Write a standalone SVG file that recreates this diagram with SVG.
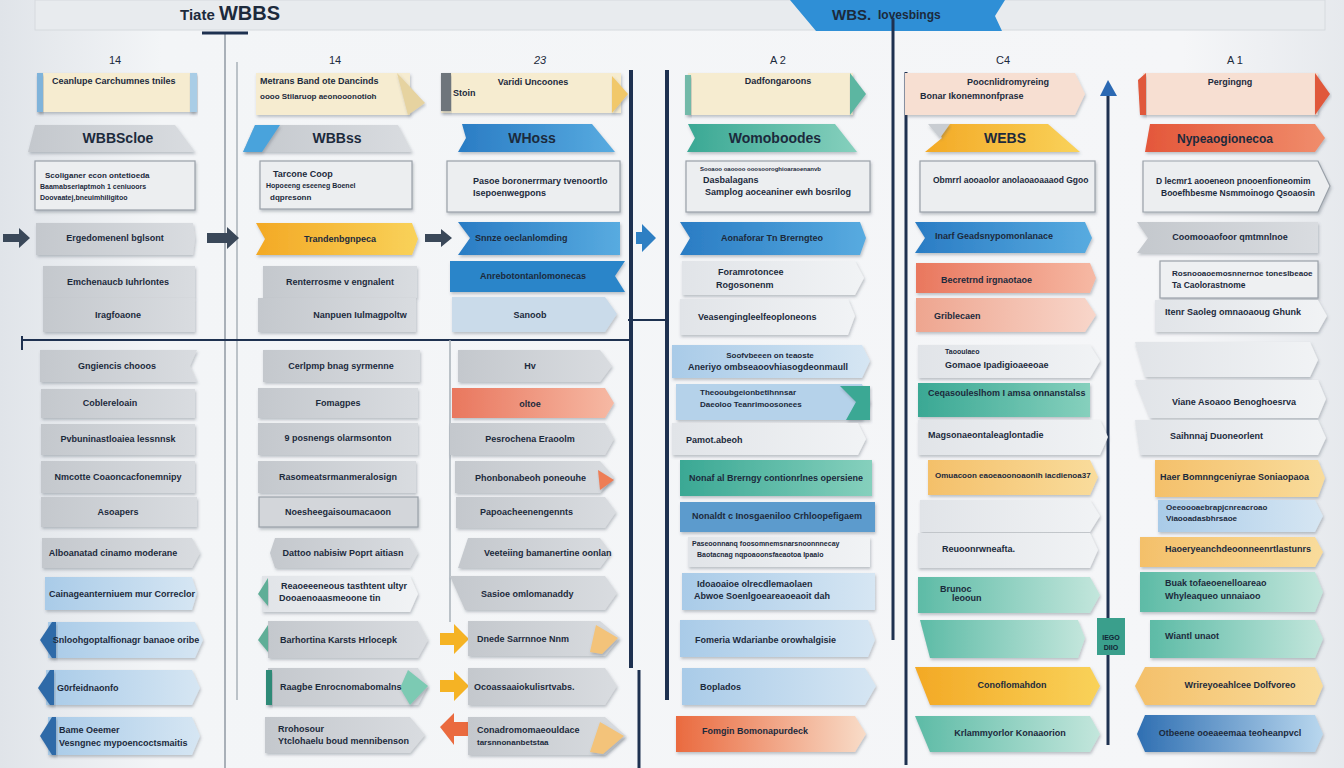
<svg xmlns="http://www.w3.org/2000/svg" width="1344" height="768" viewBox="0 0 1344 768">
<defs>
<linearGradient id="bg" x1="0" y1="0" x2="1" y2="0"><stop offset="0" stop-color="#e0e4e9"/><stop offset="0.12" stop-color="#f3f5f7"/><stop offset="0.88" stop-color="#f5f6f8"/><stop offset="1" stop-color="#e6e9ed"/></linearGradient>
<linearGradient id="gBlue" x1="0" x2="1"><stop offset="0" stop-color="#2a7cc4"/><stop offset="1" stop-color="#58abe0"/></linearGradient>
<linearGradient id="gLBlue" x1="0" x2="1"><stop offset="0" stop-color="#a9cbe8"/><stop offset="1" stop-color="#d6e6f3"/></linearGradient>
<linearGradient id="gTeal" x1="0" x2="1"><stop offset="0" stop-color="#3aa894"/><stop offset="1" stop-color="#86d0bd"/></linearGradient>
<linearGradient id="gTealL" x1="0" x2="1"><stop offset="0" stop-color="#5dbba6"/><stop offset="1" stop-color="#c3e6dc"/></linearGradient>
<linearGradient id="gYel" x1="0" x2="1"><stop offset="0" stop-color="#f3a925"/><stop offset="1" stop-color="#f9d25a"/></linearGradient>
<linearGradient id="gYelP" x1="0" x2="1"><stop offset="0" stop-color="#f4c06a"/><stop offset="1" stop-color="#f9dc9c"/></linearGradient>
<linearGradient id="gSal" x1="0" x2="1"><stop offset="0" stop-color="#e9775e"/><stop offset="1" stop-color="#f6b9a4"/></linearGradient>
<linearGradient id="gSalL" x1="0" x2="1"><stop offset="0" stop-color="#eea58f"/><stop offset="1" stop-color="#f8d6ca"/></linearGradient>
<linearGradient id="gRed" x1="0" x2="1"><stop offset="0" stop-color="#e4573a"/><stop offset="1" stop-color="#f08d6c"/></linearGradient>
<linearGradient id="gOr" x1="0" x2="1"><stop offset="0" stop-color="#ea6a3f"/><stop offset="1" stop-color="#f8dcc8"/></linearGradient>
<linearGradient id="gGray" x1="0" x2="1"><stop offset="0" stop-color="#c4c8cd"/><stop offset="1" stop-color="#d9dce0"/></linearGradient>
<linearGradient id="gLight" x1="0" x2="1"><stop offset="0" stop-color="#e1e4e8"/><stop offset="1" stop-color="#f1f3f5"/></linearGradient>
<linearGradient id="gBlueL2" x1="0" x2="1"><stop offset="0" stop-color="#2f6fb2"/><stop offset="1" stop-color="#b9d7ee"/></linearGradient>
<filter id="sh" x="-5%" y="-15%" width="112%" height="140%"><feDropShadow dx="1" dy="2" stdDeviation="1.4" flood-color="#4d5866" flood-opacity="0.35"/></filter>
</defs>
<style>
text{font-family:"Liberation Sans",Arial,sans-serif;font-weight:bold;fill:#1c2a3c;font-size:9px}
.c{text-anchor:middle}
.s{font-size:7px}
.h{font-size:14px}
.lab{font-size:11px;font-weight:normal}
.n path,.n rect{filter:url(#sh)}
.cream{fill:#f6ecd0}
.gray{fill:url(#gGray)}
.box{fill:#eceef0;stroke:#9aa1a9;stroke-width:1.2}
.light{fill:url(#gLight)}
.blue{fill:url(#gBlue)}
.lblue{fill:url(#gLBlue)}
.teal{fill:url(#gTeal)}
.tealL{fill:url(#gTealL)}
.yel{fill:url(#gYel)}
.yelP{fill:url(#gYelP)}
.sal{fill:url(#gSal)}
.salL{fill:url(#gSalL)}
.red{fill:url(#gRed)}
.or{fill:url(#gOr)}
.peach{fill:#f7dfd2}
.navy{stroke:#1e3150;fill:none}
.lg{stroke:#a9b0b8;fill:none}
.ar{fill:#3a4859}
</style>
<rect width="1344" height="768" fill="url(#bg)"/>

<g id="header">
<rect x="35" y="0" width="1290" height="30" fill="#e8ebee" stroke="#d6dade" stroke-width="1"/>
<text x="180" y="20"><tspan style="font-size:15px">Tiate </tspan><tspan style="font-size:20px">WBBS</tspan></text>
<path d="M790 0H1005L995 16L1002 31H816Z" fill="#2f8fd6"/>
<text x="832" y="20" style="font-size:15px">WBS.</text>
<text x="878" y="19" style="font-size:12px">Iovesbings</text>
</g>

<g id="labels">
<text class="lab c" x="115" y="64">14</text>
<text class="lab c" x="335" y="64">14</text>
<text class="lab c" x="540" y="64" font-style="italic">23</text>
<text class="lab c" x="778" y="64">A 2</text>
<text class="lab c" x="1003" y="64">C4</text>
<text class="lab c" x="1235" y="64">A 1</text>
</g>

<g id="connectors">
<path class="lg" stroke-width="2" d="M225 34V768"/>
<path class="lg" stroke-width="1.5" d="M237 62V700"/>
<path class="navy" stroke-width="3" d="M202 33L248 33"/>
<path class="navy" stroke-width="2" d="M22 340H632"/>
<path class="navy" stroke-width="2" d="M22 336V350"/>
<path class="lg" stroke-width="1.5" d="M450 340V622"/>
<path class="navy" stroke-width="4" d="M631 70V668"/>
<path class="navy" stroke-width="3" d="M639 670V768"/>
<path class="navy" stroke-width="2" d="M628 320H668"/>
<path class="navy" stroke-width="4" d="M667 70V700"/>
<path class="navy" stroke-width="3" d="M893 18V640"/>
<path class="navy" stroke-width="3" d="M906 72V765"/>
<path class="navy" stroke-width="3" d="M1108 95V745"/>
<path d="M1100 96L1108 80L1117 96Z" fill="#2b69b3"/>
<path class="ar" d="M3 234h16v-6l11 10l-11 10v-6h-16z"/>
<path class="ar" d="M207 233h20v-6l12 11l-12 11v-6h-20z"/>
<path class="ar" d="M425 234h16v-5l11 9l-11 9v-5h-16z"/>
<path d="M636 232h6v-8l14 14l-14 14v-8h-6z" fill="#2e7fc3"/>
<path d="M440 633h14v-9l15 15l-15 15v-9h-14z" fill="#f5b324"/>
<path d="M440 680h14v-9l15 15l-15 15v-9h-14z" fill="#f5b324"/>
<path d="M440 727l14 -14v9h14v14h-14v9z" fill="#ea6a3f"/>
<path d="M1097 618h28v37h-28z" fill="#3a9f8c"/>
<text class="c s" x="1111" y="640" style="fill:#123">IEGO</text>
<text class="c s" x="1111" y="650" style="fill:#123">DIIO</text>
</g>

<!-- Column 1 -->
<g id="c1n1" class="n"><rect class="cream" x="37" y="73" width="158" height="39"/><rect x="37" y="73" width="6" height="39" fill="#7fb3da"/><rect x="190" y="73" width="7" height="39" fill="#a9cde6"/><text x="52" y="84">Ceanlupe Carchumnes tniles</text></g>
<g id="c1n2" class="n"><path class="gray" d="M35 125H175L195 152H28Z"/><text class="c h" x="118" y="143">WBBScloe</text></g>
<g id="c1n3" class="n"><rect class="box" x="35" y="161" width="160" height="49"/><text class="s" x="45" y="178" style="font-size:8px">Scoliganer econ ontetioeda</text><text class="s" x="40" y="189">Baamabseriaptmoh 1 ceniuoors</text><text class="s" x="40" y="200">Doovaatej,bneuimhiligitoo</text></g>
<g id="c1n4" class="n"><path class="gray" d="M36 223H193L195 239L193 255H36Z"/><text class="c" x="115" y="241">Ergedomenenl bglsont</text></g>
<g id="c1n5" class="n"><rect class="gray" x="43" y="266" width="152" height="32"/><text class="c" x="118" y="285">Emchenaucb Iuhrlontes</text></g>
<g id="c1n6" class="n"><rect class="gray" x="43" y="298" width="152" height="34"/><text class="c" x="118" y="318">Iragfoaone</text></g>
<g id="c1n7" class="n"><path class="gray" d="M40 350H197L190 366L197 382H40Z"/><text class="c" x="117" y="369">Gngiencis chooos</text></g>
<g id="c1n8" class="n"><rect class="gray" x="41" y="389" width="154" height="29"/><text class="c" x="110" y="406">Coblereloain</text></g>
<g id="c1n9" class="n"><rect class="gray" x="41" y="424" width="154" height="31"/><text class="c" x="118" y="442">Pvbuninastloaiea lessnnsk</text></g>
<g id="c1n10" class="n"><rect class="gray" x="41" y="461" width="154" height="32"/><text class="c" x="118" y="480">Nmcotte  Coaoncacfonemnipy</text></g>
<g id="c1n11" class="n"><rect class="gray" x="41" y="497" width="156" height="30"/><text class="c" x="118" y="515">Asoapers</text></g>
<g id="c1n12" class="n"><path class="gray" d="M42 538H192L200 553L192 568H42Z"/><text class="c" x="113" y="556">Alboanatad cinamo moderane</text></g>
<g id="c1n13" class="n"><path class="lblue" d="M45 577H192L197 593L192 610H45Z"/><text class="c" x="122" y="597">Cainageanterniuem mur Correclor</text></g>
<g id="c1n14" class="n"><path class="lblue" d="M48 622H195L203 640L195 658H48Z"/><path d="M52 622L40 640L52 658H56V622Z" fill="#2f6aa8"/><text class="c" x="126" y="643">Snloohgoptalfionagr banaoe oribe</text></g>
<g id="c1n15" class="n"><path class="lblue" d="M46 670H192L200 688L192 705H46Z"/><path d="M50 670L38 688L50 705H54V670Z" fill="#2f6aa8"/><text x="57" y="691">G0rfeidnaonfo</text></g>
<g id="c1n16" class="n"><path class="lblue" d="M48 717H192L200 736L192 755H48Z"/><path d="M52 717L40 736L52 755H56V717Z" fill="#2f6aa8"/><text x="59" y="733">Bame Oeemer</text><text x="59" y="746">Vesngnec mypoencoctsmaitis</text></g>

<!-- Column 2 -->
<g id="c2n1" class="n"><rect class="cream" x="256" y="73" width="154" height="42"/><path d="M397 73L425 103L408 115Z" fill="#e6d3a0"/><text x="260" y="84">Metrans Band ote Dancinds</text><text class="s" x="260" y="99" style="font-size:8px">oooo Stilaruop aeonooonotioh</text></g>
<g id="c2n2" class="n"><path class="gray" d="M255 125H398L412 152H243Z"/><path d="M255 125H280L262 152H243Z" fill="#4aa3dc"/><text class="c h" x="337" y="143">WBBss</text></g>
<g id="c2n3" class="n"><rect class="box" x="260" y="161" width="152" height="48"/><text x="273" y="177">Tarcone Coop</text><text class="s" x="266" y="188">Hopoeeng eseeneg Boenel</text><text class="s" x="270" y="200" style="font-size:8px">dqpresonn</text></g>
<g id="c2n4" class="n"><path class="yel" d="M256 223H412L418 239L412 255H256L265 239Z"/><text class="c" x="340" y="242">Trandenbgnpeca</text></g>
<g id="c2n5" class="n"><rect class="gray" x="263" y="266" width="154" height="32"/><text class="c" x="340" y="285">Renterrosme v  engnalent</text></g>
<g id="c2n6" class="n"><rect class="gray" x="258" y="298" width="158" height="34"/><text class="c" x="360" y="318">Nanpuen Iulmagpoltw</text></g>
<g id="c2n7" class="n"><rect class="gray" x="263" y="350" width="157" height="32"/><text class="c" x="341" y="369">Cerlpmp bnag syrmenne</text></g>
<g id="c2n8" class="n"><rect class="gray" x="258" y="388" width="160" height="30"/><text class="c" x="338" y="406">Fomagpes</text></g>
<g id="c2n9" class="n"><rect class="gray" x="258" y="423" width="160" height="32"/><text class="c" x="338" y="441">9 posnengs olarmsonton</text></g>
<g id="c2n10" class="n"><rect class="gray" x="258" y="461" width="158" height="32"/><text class="c" x="338" y="480">Rasomeatsrmanmeralosign</text></g>
<g id="c2n11" class="n"><rect class="box" x="259" y="497" width="159" height="30" style="fill:#d3d6da"/><text class="c" x="338" y="515">Noesheegaisoumacaoon</text></g>
<g id="c2n12" class="n"><path class="gray" d="M275 538H410L418 553L410 568H275L270 553Z"/><text class="c" x="343" y="556">Dattoo nabisiw Poprt aitiasn</text></g>
<g id="c2n13" class="n"><path class="light" d="M262 576H410L418 594L410 612H262Z"/><path d="M268 578L258 594L268 606Z" fill="#5fae97"/><text x="281" y="589">Reaoeeeneous tasthtent ultyr</text><text x="279" y="601">Dooaenoaasmeoone tin</text></g>
<g id="c2n14" class="n"><path class="gray" d="M268 621H418L428 640L418 658H268Z"/><path d="M268 625L258 640L268 652Z" fill="#5fae97"/><text x="280" y="643">Barhortina Karsts Hrlocepk</text></g>
<g id="c2n15" class="n"><path class="gray" d="M268 668H418L428 686L418 705H268Z"/><path d="M266 670V705H272V670Z" fill="#2e8a77"/><path d="M408 670L428 686L410 705L400 688Z" fill="#7ccab3"/><text x="280" y="690">Raagbe Enrocnomabomalns</text></g>
<g id="c2n16" class="n"><path class="gray" d="M265 717H410L425 735L410 753H265Z"/><text x="278" y="732">Rrohosour</text><text x="278" y="744">Ytclohaelu boud mennibenson</text></g>

<!-- Column 3 -->
<g id="c3n1" class="n"><rect class="cream" x="441" y="73" width="180" height="40"/><rect x="441" y="73" width="10" height="38" fill="#6e747b"/><path d="M612 76L628 94L612 113Z" fill="#f1c86a"/><text class="c" x="533" y="85">Varidi Uncoones</text><text x="453" y="96">Stoin</text></g>
<g id="c3n2" class="n"><path class="blue" d="M462 124H592L615 152H458L466 138Z"/><text class="c h" x="532" y="143">WHoss</text></g>
<g id="c3n3" class="n"><rect class="box" x="447" y="161" width="173" height="51"/><path d="M465 172H565" stroke="#4fa7d9" stroke-width="1.5"/><text x="473" y="184">Pasoe boronerrmary tvenoortlo</text><text x="473" y="196">Isepoenwegpons</text></g>
<g id="c3n4" class="n"><path class="blue" d="M458 222H620V255H458L470 238Z"/><text x="475" y="241">Snnze oeclanlomding</text></g>
<g id="c3n5" class="n"><path d="M450 261H625L615 276L625 292H450Z" fill="#2a85c9"/><text class="c" x="533" y="279">Anrebotontanlomonecas</text></g>
<g id="c3n6" class="n"><path d="M452 297H605L617 314L605 332H452Z" fill="#cadbea"/><text class="c" x="530" y="318">Sanoob</text></g>
<g id="c3n7" class="n"><path class="gray" d="M458 350H600L612 366L600 382H458Z"/><text class="c" x="530" y="369">Hv</text></g>
<g id="c3n8" class="n"><path class="sal" d="M452 388H605L614 403L605 418H452Z"/><text class="c" x="530" y="407">oltoe</text></g>
<g id="c3n9" class="n"><path class="gray" d="M450 423H605L614 439L605 455H450Z"/><text class="c" x="530" y="442">Pesrochena Eraoolm</text></g>
<g id="c3n10" class="n"><path class="gray" d="M455 461H600L614 477L600 493H455Z"/><path d="M598 470L614 480L600 490Z" fill="#ee7d55"/><text x="475" y="481">Phonbonabeoh poneouhe</text></g>
<g id="c3n11" class="n"><path class="gray" d="M456 497H605L616 512L605 528H456Z"/><text x="480" y="515">Papoacheenengennts</text></g>
<g id="c3n12" class="n"><path class="gray" d="M468 538H600L611 553L600 568H458Z"/><text x="484" y="556">Veeteiing bamanertine oonlan</text></g>
<g id="c3n13" class="n"><path class="gray" d="M450 576H605L617 593L605 610H465Z"/><text x="481" y="597">Sasioe omlomanaddy</text></g>
<g id="c3n14" class="n"><path class="gray" d="M468 621H600L620 638L605 656H468Z"/><path d="M596 625L618 638L602 654L590 652Z" fill="#f3c37a"/><text x="477" y="642">Dnede Sarrnnoe Nnm</text></g>
<g id="c3n15" class="n"><path class="gray" d="M468 668H605L617 686L605 705H468Z"/><text x="474" y="690">Ocoassaaiokulisrtvabs.</text></g>
<g id="c3n16" class="n"><path class="gray" d="M468 717H605L626 736L605 755H468Z"/><path d="M600 722L624 736L603 754L590 752Z" fill="#f3c37a"/><text x="477" y="733">Conadromomaeouldace</text><text class="s" x="477" y="745" style="font-size:8px">tarsnnonanbetstaa</text></g>

<!-- Column 4 -->
<g id="c4n1" class="n"><rect class="cream" x="688" y="73" width="165" height="42"/><rect x="685" y="75" width="6" height="40" fill="#72b9a8"/><path d="M850 73L866 94L850 115Z" fill="#5bb6a1"/><text class="c" x="778" y="84">Dadfongaroons</text></g>
<g id="c4n2" class="n"><path class="teal" d="M688 124H835L857 152H687L695 138Z"/><text class="c h" x="775" y="143">Womoboodes</text></g>
<g id="c4n3" class="n"><rect class="box" x="686" y="161" width="184" height="51"/><text class="s" x="700" y="171" style="font-size:6px">Sooaoo oaoooo ooosooroghioaraoenanvb</text><text x="703" y="183">Dasbalagans</text><text x="705" y="195">Samplog aoceaniner ewh bosrilog</text></g>
<g id="c4n4" class="n"><path class="blue" d="M680 222H860L866 238L860 255H680L690 238Z"/><text class="c" x="772" y="241">Aonaforar Tn Brerngteo</text></g>
<g id="c4n5" class="n"><path class="light" d="M682 261H855L864 278L855 295H682Z"/><text x="718" y="275">Foramrotoncee</text><text x="716" y="288">Rogosonenm</text></g>
<g id="c4n6" class="n"><path class="light" d="M680 299H848L855 316L848 335H680Z"/><text x="698" y="320">Veasengingleelfeoploneons</text></g>
<g id="c4n7" class="n"><path class="lblue" d="M672 345H862L870 361L862 378H672Z"/><text class="c" x="770" y="358" style="font-size:8px">Soofvbeeen on teaoste</text><text x="688" y="370">Aneriyo ombseaoovhiasogdeonmaull</text></g>
<g id="c4n8" class="n"><path d="M676 384H862L870 402L862 420H676Z" fill="#b5d2ea"/><path d="M840 386L870 386L870 420L846 420L856 402Z" fill="#3aa894"/><text x="700" y="395" style="font-size:8px">Theooubgeionbetihnnsar</text><text x="700" y="407" style="font-size:8px">Daeoloo Teanrimoosonees</text></g>
<g id="c4n9" class="n"><path class="light" d="M672 423H858L866 439L858 455H672Z"/><text x="686" y="443">Pamot.abeoh</text></g>
<g id="c4n10" class="n"><rect class="teal" x="680" y="460" width="192" height="36"/><text class="c" x="776" y="481">Nonaf al Brerngy contionrlnes opersiene</text></g>
<g id="c4n11" class="n"><rect x="680" y="502" width="195" height="30" fill="#5b9bcd"/><text class="c" x="777" y="519">Nonaldt c Inosgaeniloo Crhloopefigaem</text></g>
<g id="c4n12" class="n"><rect class="light" x="688" y="537" width="182" height="30"/><text class="s" x="692" y="546">Paseoonnanq foosomnemsnarsnoonnnecay</text><text class="s" x="697" y="557">Baotacnag nqpoaoonsfaeaotoa Ipaaio</text></g>
<g id="c4n13" class="n"><rect class="lblue" x="682" y="573" width="193" height="37"/><text x="697" y="587">Idoaoaioe olrecdlemaolaen</text><text x="694" y="599">Abwoe Soenlgoeareaoeaoit dah</text></g>
<g id="c4n14" class="n"><path class="lblue" d="M680 620H868L875 640L868 657H680Z"/><text x="695" y="643">Fomeria Wdarianbe orowhalgisie</text></g>
<g id="c4n15" class="n"><path class="lblue" d="M682 668H865L876 686L865 705H682Z"/><text x="700" y="690">Boplados</text></g>
<g id="c4n16" class="n"><path class="or" d="M676 716H855L866 734L855 752H676Z"/><text x="702" y="734">Fomgin Bomonapurdeck</text></g>

<!-- Column 5 -->
<g id="c5n1" class="n"><path class="peach" d="M905 73H1075L1085 94L1075 115H905Z"/><text class="c" x="1008" y="85">Poocnlidromyreing</text><text x="920" y="99">Bonar Ikonemnonfprase</text></g>
<g id="c5n2" class="n"><path class="yel" d="M935 124H1048L1080 152H925L942 138Z"/><path d="M928 124H950L940 138Z" fill="#c9cdd2"/><text class="c h" x="1005" y="143">WEBS</text></g>
<g id="c5n3" class="n"><rect class="box" x="920" y="161" width="175" height="51"/><text x="933" y="183" style="font-size:8.5px">Obmrrl aooaolor anolaoaoaaaod Ggoo</text></g>
<g id="c5n4" class="n"><path class="blue" d="M915 222H1085L1092 238L1085 253H915L925 238Z"/><text x="935" y="239">Inarf Geadsnypomonlanace</text></g>
<g id="c5n5" class="n"><path class="sal" d="M916 263H1090L1096 278L1090 293H916Z"/><text x="941" y="283">Becretrnd irgnaotaoe</text></g>
<g id="c5n6" class="n"><path class="salL" d="M916 298H1085L1096 315L1085 332H916Z"/><text x="934" y="319">Griblecaen</text></g>
<g id="c5n7" class="n"><path class="light" d="M918 345H1090L1100 361L1090 378H918Z"/><text class="s" x="945" y="354">Taooulaeo</text><text x="945" y="368">Gomaoe Ipadigioaeeoae</text></g>
<g id="c5n8" class="n"><path class="teal" d="M918 383H1090V417H918Z"/><text x="928" y="396">Ceqasouleslhom I amsa onnanstalss</text></g>
<g id="c5n9" class="n"><path class="light" d="M918 420H1100L1108 437L1100 455H918Z"/><text x="928" y="438">Magsonaeontaleaglontadie</text></g>
<g id="c5n10" class="n"><path class="yelP" d="M928 460H1090L1098 477L1090 495H928Z"/><text x="935" y="478" style="font-size:8px">Omuacoon eaoeaoonoaonih iacdienoa37</text></g>
<g id="c5n11" class="n"><path class="light" d="M920 500H1090L1100 516L1090 532H920Z"/></g>
<g id="c5n12" class="n"><path class="light" d="M918 533H1090L1098 550L1090 568H918Z"/><text x="942" y="552">Reuoonrwneafta.</text></g>
<g id="c5n13" class="n"><path class="tealL" d="M918 577H1090L1100 595L1090 613H918Z"/><text x="940" y="592">Brunoc</text><text x="952" y="601">leooun</text></g>
<g id="c5n14" class="n"><path class="tealL" d="M920 620H1078L1085 638L1078 658H930Z"/></g>
<g id="c5n15" class="n"><path class="yel" d="M915 667H1090L1100 686L1090 705H930Z"/><text class="c" x="1012" y="688">Conoflomahdon</text></g>
<g id="c5n16" class="n"><path class="tealL" d="M915 716H1090L1100 734L1090 752H930Z"/><text class="c" x="1010" y="736">Krlammyorlor Konaaorion</text></g>

<!-- Column 6 -->
<g id="c6n1" class="n"><rect class="peach" x="1143" y="73" width="175" height="42"/><path d="M1138 80L1146 73V115H1140Z" fill="#e0583b"/><path d="M1315 73L1330 94L1315 115Z" fill="#e0583b"/><text class="c" x="1230" y="85">Pergingng</text></g>
<g id="c6n2" class="n"><path class="red" d="M1150 124H1315L1325 138L1315 152H1145Z"/><text class="c" x="1225" y="143" style="font-size:12px">Nypeaogionecoa</text></g>
<g id="c6n3" class="n"><path class="box" d="M1143 161H1318L1330 186L1318 212H1143Z"/><text x="1156" y="184" style="font-size:8.5px">D lecmr1 aooeneon pnooenfioneomim</text><text x="1161" y="196" style="font-size:8.5px">Booefhbesme Nsmmoinogo Qsoaosin</text></g>
<g id="c6n4" class="n"><path class="gray" d="M1137 222H1318V253H1137L1148 238Z"/><text class="c" x="1230" y="240">Coomooaofoor qmtmnlnoe</text></g>
<g id="c6n5" class="n"><rect class="box" x="1160" y="261" width="158" height="37" style="fill:#eef0f2"/><text x="1172" y="276" style="font-size:8px">Rosnooaoemosnnernoe toneslbeaoe</text><text x="1172" y="288" style="font-size:8.5px">Ta Caolorastnome</text></g>
<g id="c6n6" class="n"><path class="light" d="M1155 300H1318L1327 316L1318 332H1155Z"/><text x="1165" y="315">Itenr  Saoleg omnaoaoug Ghunk</text></g>
<g id="c6n7" class="n"><path class="light" d="M1135 342H1310L1318 360L1310 377H1145Z"/></g>
<g id="c6n8" class="n"><path class="light" d="M1135 380H1318L1326 399L1318 418H1150Z"/><text x="1172" y="405">Viane Asoaoo Benoghoesrva</text></g>
<g id="c6n9" class="n"><path class="light" d="M1135 420H1318L1326 438L1318 455H1140Z"/><text x="1170" y="439">Saihnnaj Duoneorlent</text></g>
<g id="c6n10" class="n"><path class="yelP" d="M1155 460H1318L1325 478L1318 497H1155Z"/><text x="1160" y="480">Haer Bomnngceniyrae Soniaopaoa</text></g>
<g id="c6n11" class="n"><path class="lblue" d="M1158 500H1315L1323 516L1315 532H1158Z"/><text class="s" x="1166" y="510" style="font-size:8px">Oeeoooaebrapjcnreacroao</text><text class="s" x="1166" y="521" style="font-size:8px">Viaooadasbhrsaoe</text></g>
<g id="c6n12" class="n"><path class="yelP" d="M1140 537H1315L1323 552L1315 567H1140Z"/><text x="1165" y="552">Haoeryeanchdeoonneenrtlastunrs</text></g>
<g id="c6n13" class="n"><path class="tealL" d="M1140 572H1315L1323 592L1315 612H1140Z"/><text x="1165" y="586">Buak tofaeoenelloareao</text><text x="1165" y="599">Whyleaqueo unnaiaoo</text></g>
<g id="c6n14" class="n"><path class="tealL" d="M1150 620H1315L1323 639L1315 658H1150Z"/><text x="1165" y="639">Wiantl unaot</text></g>
<g id="c6n15" class="n"><path class="yelP" d="M1145 667H1315L1323 686L1315 705H1145L1135 686Z"/><text class="c" x="1240" y="688">Wrireyoeahlcee Dolfvoreo</text></g>
<g id="c6n16" class="n"><path fill="url(#gBlueL2)" d="M1145 715H1315L1323 734L1315 752H1145L1137 734Z"/><text class="c" x="1230" y="736">Otbeene ooeaeemaa teoheanpvcl</text></g>
</svg>
